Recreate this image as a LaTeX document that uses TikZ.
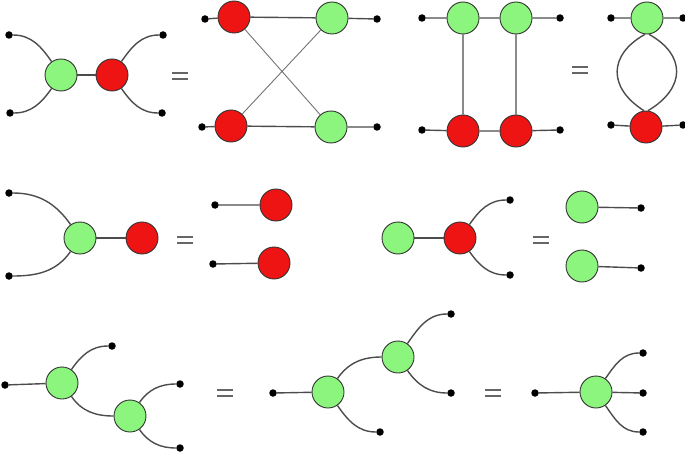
\documentclass[tikz,border=0pt]{standalone}
\begin{document}
\begin{tikzpicture}[x=1pt,y=-1pt,
 g/.style={circle,draw=black!80,fill=gG,minimum size=32pt,inner sep=0pt,line width=0.9pt},
 r/.style={circle,draw=black!80,fill=rR,minimum size=32pt,inner sep=0pt,line width=0.9pt},
 d/.style={circle,fill=black,minimum size=7.5pt,inner sep=0pt},
 w/.style={draw=black!70,line width=1.4pt},
 eq/.style={draw=black!60,line width=1.3pt}]
\definecolor{gG}{RGB}{140,245,125}
\definecolor{rR}{RGB}{238,20,20}
\useasboundingbox (0,0) rectangle (685,468);
\tikzset{eqs/.pic={\draw[eq] (-8,-3)--(8,-3) (-8,3)--(8,3);}}
% row 1 left
\node[d] (a1) at (9,35) {}; \node[d] (a2) at (10,113) {};
\node[d] (a3) at (163,35) {}; \node[d] (a4) at (162,113) {};
\node[g] (ag) at (61,75) {}; \node[r] (ar) at (112,75) {};
\draw[w] (ag)--(ar);
\draw[w] (a1) to[out=0,in=125] (ag.125); \draw[w] (a2) to[out=0,in=-125] (ag.-125);
\draw[w] (a3) to[out=180,in=55] (ar.55); \draw[w] (a4) to[out=180,in=-55] (ar.-55);
\pic at (180,76) {eqs};
% cross
\node[r] (b1) at (234,17) {}; \node[g] (b2) at (332,18) {};
\node[r] (b3) at (231,126) {}; \node[g] (b4) at (331,127) {};
\node[d] (bd1) at (205,19) {}; \node[d] (bd2) at (377,19) {};
\node[d] (bd3) at (202,127) {}; \node[d] (bd4) at (377,127) {};
\draw[w] (bd1)--(b1)--(b2)--(bd2) (bd3)--(b3)--(b4)--(bd4);
\draw[w,line width=0.9pt,draw=black!55] (b1)--(b4) (b3)--(b2);
% ladder
\node[g] (c1) at (463,18) {}; \node[g] (c2) at (516,18) {};
\node[r] (c3) at (463,131) {}; \node[r] (c4) at (516,131) {};
\node[d] (cd1) at (422,18) {}; \node[d] (cd2) at (560,18) {};
\node[d] (cd3) at (422,130) {}; \node[d] (cd4) at (560,130) {};
\draw[w] (cd1)--(c1)--(c2)--(cd2) (cd3)--(c3)--(c4)--(cd4) (c1)--(c3) (c2)--(c4);
\pic at (580,70) {eqs};
% ribbon
\node[g] (e1) at (647,18) {}; \node[r] (e2) at (646,127) {};
\node[d] (ed1) at (611,18) {}; \node[d] (ed2) at (683,18) {};
\node[d] (ed3) at (611,125) {}; \node[d] (ed4) at (683,125) {};
\draw[w] (ed1)--(e1)--(ed2) (ed3)--(e2)--(ed4);
\draw[w] (e1.-97) .. controls (608,55) and (608,88) .. (e2.97);
\draw[w] (e1.-83) .. controls (686,55) and (686,88) .. (e2.83);
% row 2 left
\node[g] (f1) at (80,238) {}; \node[r] (f2) at (142,238) {};
\node[d] (fd1) at (9,193) {}; \node[d] (fd2) at (9,276) {};
\draw[w] (f1)--(f2);
\draw[w] (fd1) to[out=0,in=125] (f1.125); \draw[w] (fd2) to[out=0,in=-125] (f1.-125);
\pic at (185,240) {eqs};
\node[r] (h1) at (276,205) {}; \node[d] (hd1) at (215,205) {};
\node[r] (h2) at (274,263) {}; \node[d] (hd2) at (213,264) {};
\draw[w] (hd1)--(h1) (hd2)--(h2);
% row 2 right
\node[g] (i1) at (398,238) {}; \node[r] (i2) at (460,238) {};
\node[d] (id1) at (510,200) {}; \node[d] (id2) at (510,275) {};
\draw[w] (i1)--(i2);
\draw[w] (id1) to[out=180,in=55] (i2.55); \draw[w] (id2) to[out=180,in=-55] (i2.-55);
\pic at (541,240) {eqs};
\node[g] (j1) at (582,207) {}; \node[d] (jd1) at (641,208) {};
\node[g] (j2) at (582,266) {}; \node[d] (jd2) at (641,268) {};
\draw[w] (j1)--(jd1) (j2)--(jd2);
% row 3 left
\node[g] (k1) at (62,383) {}; \node[g] (k2) at (130,416) {};
\node[d] (kd0) at (5,385) {}; \node[d] (kd1) at (112,346) {};
\node[d] (kd2) at (180,384) {}; \node[d] (kd3) at (180,448) {};
\draw[w] (kd0)--(k1);
\draw[w] (kd1) to[out=180,in=55] (k1.55);
\draw[w] (k1.-55) to[out=-55,in=180] (k2.180);
\draw[w] (kd2) to[out=180,in=55] (k2.55); \draw[w] (kd3) to[out=180,in=-55] (k2.-55);
\pic at (225,393) {eqs};
% row 3 middle
\node[g] (m1) at (328,392) {}; \node[g] (m2) at (398,357) {};
\node[d] (md0) at (273,393) {}; \node[d] (md1) at (380,432) {};
\node[d] (md2) at (451,314) {}; \node[d] (md3) at (451,393) {};
\draw[w] (md0)--(m1);
\draw[w] (md1) to[out=180,in=-55] (m1.-55);
\draw[w] (m1.55) to[out=55,in=180] (m2.180);
\draw[w] (md2) to[out=180,in=55] (m2.55); \draw[w] (md3) to[out=180,in=-55] (m2.-55);
\pic at (493,393) {eqs};
% row 3 right
\node[g] (n1) at (596,392) {};
\node[d] (nd0) at (535,393) {}; \node[d] (nd1) at (643,353) {};
\node[d] (nd2) at (643,393) {}; \node[d] (nd3) at (643,432) {};
\draw[w] (nd0)--(n1)--(nd2);
\draw[w] (nd1) to[out=180,in=55] (n1.55); \draw[w] (nd3) to[out=180,in=-55] (n1.-55);
\end{tikzpicture}
\end{document}
